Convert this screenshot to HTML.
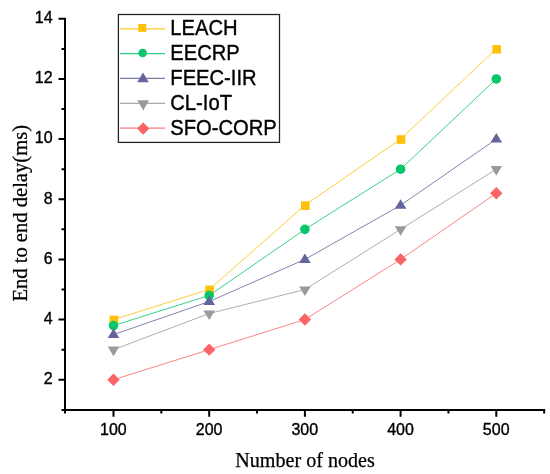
<!DOCTYPE html><html><head><meta charset="utf-8"><style>html,body{margin:0;padding:0;background:#fff;width:550px;height:474px;overflow:hidden}svg{display:block}</style></head><body>
<svg width="550" height="474" viewBox="0 0 550 474">
<rect width="550" height="474" fill="#fff"/>
<g><polyline points="113.50,319.57 209.20,289.49 304.90,205.28 400.60,139.11 496.30,48.88" fill="none" stroke="#FFC107" stroke-width="1.0" stroke-opacity="0.8"/><polyline points="113.50,325.58 209.20,295.51 304.90,229.34 400.60,169.18 496.30,78.95" fill="none" stroke="#08C66C" stroke-width="1.0" stroke-opacity="0.8"/><polyline points="113.50,334.61 209.20,301.52 304.90,259.42 400.60,205.28 496.30,139.11" fill="none" stroke="#64649E" stroke-width="1.0" stroke-opacity="0.8"/><polyline points="113.50,349.65 209.20,313.55 304.90,289.49 400.60,229.34 496.30,169.18" fill="none" stroke="#9A9A9A" stroke-width="1.0" stroke-opacity="0.8"/><polyline points="113.50,379.72 209.20,349.65 304.90,319.57 400.60,259.42 496.30,193.25" fill="none" stroke="#FB6464" stroke-width="1.0" stroke-opacity="0.8"/></g>
<g><rect x="109.60" y="315.67" width="8.60" height="8.60" fill="#FFC107"/><rect x="205.30" y="285.59" width="8.60" height="8.60" fill="#FFC107"/><rect x="301.00" y="201.38" width="8.60" height="8.60" fill="#FFC107"/><rect x="396.70" y="135.21" width="8.60" height="8.60" fill="#FFC107"/><rect x="492.40" y="44.98" width="8.60" height="8.60" fill="#FFC107"/><circle cx="113.50" cy="325.58" r="4.8" fill="#08C66C"/><circle cx="209.20" cy="295.51" r="4.8" fill="#08C66C"/><circle cx="304.90" cy="229.34" r="4.8" fill="#08C66C"/><circle cx="400.60" cy="169.18" r="4.8" fill="#08C66C"/><circle cx="496.30" cy="78.95" r="4.8" fill="#08C66C"/><polygon points="113.50,328.61 119.30,338.11 107.70,338.11" fill="#64649E"/><polygon points="209.20,295.52 215.00,305.02 203.40,305.02" fill="#64649E"/><polygon points="304.90,253.42 310.70,262.92 299.10,262.92" fill="#64649E"/><polygon points="400.60,199.28 406.40,208.78 394.80,208.78" fill="#64649E"/><polygon points="496.30,133.11 502.10,142.61 490.50,142.61" fill="#64649E"/><polygon points="113.50,356.15 119.30,346.55 107.70,346.55" fill="#9A9A9A"/><polygon points="209.20,320.05 215.00,310.45 203.40,310.45" fill="#9A9A9A"/><polygon points="304.90,295.99 310.70,286.39 299.10,286.39" fill="#9A9A9A"/><polygon points="400.60,235.84 406.40,226.24 394.80,226.24" fill="#9A9A9A"/><polygon points="496.30,175.68 502.10,166.08 490.50,166.08" fill="#9A9A9A"/><polygon points="113.50,373.52 119.70,379.72 113.50,385.92 107.30,379.72" fill="#FB6464"/><polygon points="209.20,343.45 215.40,349.65 209.20,355.85 203.00,349.65" fill="#FB6464"/><polygon points="304.90,313.37 311.10,319.57 304.90,325.77 298.70,319.57" fill="#FB6464"/><polygon points="400.60,253.22 406.80,259.42 400.60,265.62 394.40,259.42" fill="#FB6464"/><polygon points="496.30,187.05 502.50,193.25 496.30,199.45 490.10,193.25" fill="#FB6464"/></g>
<g><path d="M58.5,18.80 H65 V413.5" fill="none" stroke="#000" stroke-width="2"/><path d="M61.5,410 H544.15 V413.5" fill="none" stroke="#000" stroke-width="2"/><path d="M58.5,379.72 H65 M58.5,319.57 H65 M58.5,259.42 H65 M58.5,199.26 H65 M58.5,139.11 H65 M58.5,78.95 H65 M61.5,349.65 H65 M61.5,289.49 H65 M61.5,229.34 H65 M61.5,169.18 H65 M61.5,109.03 H65 M61.5,48.88 H65 M113.50,410 V416.7 M209.20,410 V416.7 M304.90,410 V416.7 M400.60,410 V416.7 M496.30,410 V416.7 M161.35,410 V413.5 M257.05,410 V413.5 M352.75,410 V413.5 M448.45,410 V413.5" fill="none" stroke="#000" stroke-width="2"/></g>
<g style="font-family:&quot;Liberation Sans&quot;,Arial,sans-serif" font-size="16" fill="#000" stroke="#000" stroke-width="0.35"><text transform="translate(52.6,384.02) scale(1,1.06)" text-anchor="end">2</text><text transform="translate(52.6,323.87) scale(1,1.06)" text-anchor="end">4</text><text transform="translate(52.6,263.72) scale(1,1.06)" text-anchor="end">6</text><text transform="translate(52.6,203.56) scale(1,1.06)" text-anchor="end">8</text><text transform="translate(52.6,143.41) scale(1,1.06)" text-anchor="end">10</text><text transform="translate(52.6,83.25) scale(1,1.06)" text-anchor="end">12</text><text transform="translate(52.6,23.10) scale(1,1.06)" text-anchor="end">14</text><text transform="translate(113.40,435.2) scale(1,1.03)" text-anchor="middle">100</text><text transform="translate(209.10,435.2) scale(1,1.03)" text-anchor="middle">200</text><text transform="translate(304.80,435.2) scale(1,1.03)" text-anchor="middle">300</text><text transform="translate(400.50,435.2) scale(1,1.03)" text-anchor="middle">400</text><text transform="translate(496.20,435.2) scale(1,1.03)" text-anchor="middle">500</text></g>
<text x="235.3" y="466.8" style="font-family:&quot;Liberation Serif&quot;,&quot;Times New Roman&quot;,serif" font-size="20" fill="#000" stroke="#000" stroke-width="0.25" textLength="139.5" lengthAdjust="spacingAndGlyphs">Number of nodes</text>
<text transform="translate(26.7,301.6) rotate(-90)" x="0" y="0" style="font-family:&quot;Liberation Serif&quot;,&quot;Times New Roman&quot;,serif" font-size="20" fill="#000" stroke="#000" stroke-width="0.25" textLength="176.6" lengthAdjust="spacingAndGlyphs">End to end delay(ms)</text>
<g><rect x="118.4" y="14.5" width="161.1" height="127.9" fill="#fff" stroke="#222" stroke-width="1.25"/><line x1="120" y1="28.9" x2="165" y2="28.9" stroke="#FFC107" stroke-width="1.3" stroke-opacity="0.85"/><rect x="138.30" y="23.90" width="8.00" height="8.00" fill="#FFC107"/><text transform="translate(170.3,34.70) scale(1,1.09)" style="font-family:&quot;Liberation Sans&quot;,Arial,sans-serif" font-size="20.2" fill="#000" stroke="#000" stroke-width="0.35">LEACH</text><line x1="120" y1="53.6" x2="165" y2="53.6" stroke="#08C66C" stroke-width="1.3" stroke-opacity="0.85"/><circle cx="142.70" cy="53.00" r="4.3" fill="#08C66C"/><text transform="translate(170.3,59.90) scale(1,1.09)" style="font-family:&quot;Liberation Sans&quot;,Arial,sans-serif" font-size="20.2" fill="#000" stroke="#000" stroke-width="0.35">EECRP</text><line x1="120" y1="78.3" x2="165" y2="78.3" stroke="#64649E" stroke-width="1.3" stroke-opacity="0.85"/><polygon points="143.00,72.50 148.80,82.20 137.20,82.20" fill="#64649E"/><text transform="translate(170.3,85.10) scale(1,1.09)" style="font-family:&quot;Liberation Sans&quot;,Arial,sans-serif" font-size="20.2" fill="#000" stroke="#000" stroke-width="0.35">FEEC-IIR</text><line x1="120" y1="103.3" x2="165" y2="103.3" stroke="#9A9A9A" stroke-width="1.3" stroke-opacity="0.85"/><polygon points="143.20,110.50 149.00,100.20 137.40,100.20" fill="#9A9A9A"/><text transform="translate(170.3,109.60) scale(1,1.09)" style="font-family:&quot;Liberation Sans&quot;,Arial,sans-serif" font-size="20.2" fill="#000" stroke="#000" stroke-width="0.35">CL-IoT</text><line x1="120" y1="128.2" x2="165" y2="128.2" stroke="#FB6464" stroke-width="1.3" stroke-opacity="0.85"/><polygon points="143.20,122.40 149.40,128.60 143.20,134.80 137.00,128.60" fill="#FB6464"/><text transform="translate(170.3,134.50) scale(1,1.09)" style="font-family:&quot;Liberation Sans&quot;,Arial,sans-serif" font-size="20.2" fill="#000" stroke="#000" stroke-width="0.35">SFO-CORP</text></g>
</svg></body></html>
